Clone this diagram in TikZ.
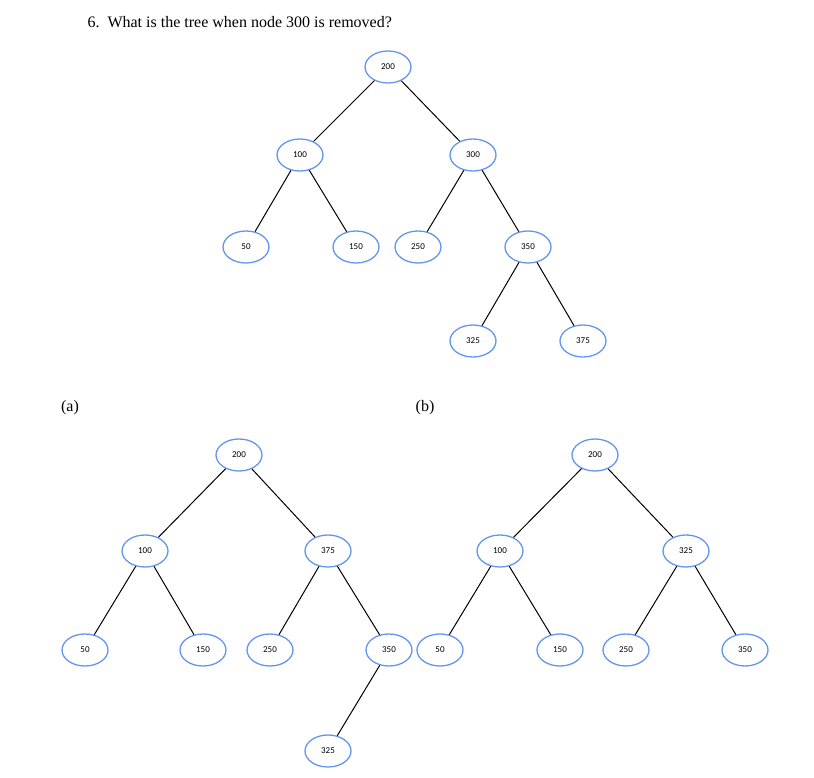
\documentclass[tikz,border=0pt]{standalone}
\usepackage{fontspec}
\setmainfont{Liberation Serif}
\newfontfamily\nodefont{Carlito}
\usetikzlibrary{shapes.geometric}
\definecolor{nb}{RGB}{100,150,240}
\begin{document}
\begin{tikzpicture}[x=1pt,y=-1pt,
  tn/.style={ellipse,draw=nb,line width=1.3pt,fill=white,minimum width=46pt,minimum height=32pt,inner sep=0pt,font=\nodefont\fontsize{9}{10}\selectfont},
  ed/.style={line width=1pt,black}]
\useasboundingbox (0,0) rectangle (814,778);
\node[anchor=west,font=\fontsize{16}{18}\selectfont] (t) at (84,22) {6.\hspace{8pt}What is the tree when node 300 is removed?};
\node[font=\fontsize{16}{18}\selectfont] (la) at (70,408) {(a)};
\node[font=\fontsize{16}{18}\selectfont] (lb) at (425,408) {(b)};
% top tree
\node[tn] (t200) at (388,67) {200};
\node[tn] (t100) at (300,155) {100};
\node[tn] (t300) at (473,155) {300};
\node[tn] (t50) at (246,247) {50};
\node[tn] (t150) at (356,247) {150};
\node[tn] (t250) at (418,247) {250};
\node[tn] (t350) at (528,247) {350};
\node[tn] (t325) at (473,341) {325};
\node[tn] (t375) at (583,341) {375};
\draw[ed] (t200)--(t100) (t200)--(t300) (t100)--(t50) (t100)--(t150) (t300)--(t250) (t300)--(t350) (t350)--(t325) (t350)--(t375);
% tree a
\node[tn] (a200) at (239,455) {200};
\node[tn] (a100) at (145,551) {100};
\node[tn] (a375) at (328,551) {375};
\node[tn] (a50) at (85,650) {50};
\node[tn] (a150) at (203,650) {150};
\node[tn] (a250) at (270,650) {250};
\node[tn] (a350) at (389,650) {350};
\node[tn] (a325) at (328,751) {325};
\draw[ed] (a200)--(a100) (a200)--(a375) (a100)--(a50) (a100)--(a150) (a375)--(a250) (a375)--(a350) (a350)--(a325);
% tree b
\node[tn] (b200) at (595,455) {200};
\node[tn] (b100) at (500,551) {100};
\node[tn] (b325) at (686,551) {325};
\node[tn] (b50) at (440,650) {50};
\node[tn] (b150) at (560,650) {150};
\node[tn] (b250) at (626,650) {250};
\node[tn] (b350) at (745,650) {350};
\draw[ed] (b200)--(b100) (b200)--(b325) (b100)--(b50) (b100)--(b150) (b325)--(b250) (b325)--(b350);
\end{tikzpicture}
\end{document}
